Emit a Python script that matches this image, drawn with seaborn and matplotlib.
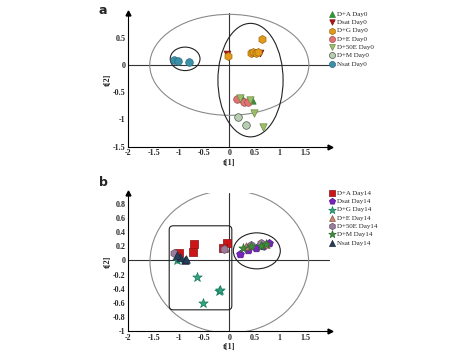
import numpy as np
import pandas as pd
import matplotlib
matplotlib.use("Agg")
import matplotlib.pyplot as plt
import seaborn as sns
from matplotlib.patches import Ellipse, FancyBboxPatch
from matplotlib.ticker import MultipleLocator

sns.set_style("white")
plt.rcParams['font.family'] = ['Liberation Serif', 'DejaVu Serif']

# ---------------- data: panel a (Day0) ----------------
groups_a = ["D+A Day0", "Dsat Day0", "D+G Day0", "D+E Day0", "D+50E Day0", "D+M Day0", "Nsat Day0"]
a_DA_x = [0.25, 0.45]
a_DA_y = [-0.60, -0.64]
a_Dsat_x = [-0.05, 0.45, 0.60]
a_Dsat_y = [0.20, 0.21, 0.21]
a_DG_x = [-0.03, 0.64, 0.42, 0.47, 0.52, 0.57]
a_DG_y = [0.17, 0.47, 0.22, 0.23, 0.22, 0.24]
a_DE_x = [0.15, 0.29, 0.37]
a_DE_y = [-0.62, -0.69, -0.68]
a_D50E_x = [0.21, 0.40, 0.48, 0.67]
a_D50E_y = [-0.60, -0.65, -0.89, -1.14]
a_DM_x = [0.17, 0.34]
a_DM_y = [-0.95, -1.10]
a_Nsat_x = [-1.09, -1.01, -0.79]
a_Nsat_y = [0.085, 0.074, 0.048]

# ---------------- data: panel b (Day14) ----------------
groups_b = ["D+A Day14", "Dsat Day14", "D+G Day14", "D+E Day14", "D+50E Day14", "D+M Day14", "Nsat Day14"]
b_DA_x = [-0.99, -0.69, -0.71, -0.05, -0.12]
b_DA_y = [0.10, 0.23, 0.12, 0.24, 0.17]
b_Dsat_x = [0.21, 0.38, 0.52, 0.67, 0.78, 0.62]
b_Dsat_y = [0.09, 0.15, 0.17, 0.20, 0.24, 0.23]
b_DG_x = [-0.63, -0.21, -0.18, -0.52, -1.03, -0.98]
b_DG_y = [-0.23, -0.44, -0.42, -0.60, 0.01, 0.02]
b_DE_x = [0.33, 0.72, -0.08]
b_DE_y = [0.21, 0.23, 0.17]
b_D50E_x = [-1.10, -0.10, 0.42, 0.62]
b_D50E_y = [0.10, 0.16, 0.22, 0.24]
b_DM_x = [0.27, 0.42, 0.62, 0.72]
b_DM_y = [0.17, 0.21, 0.21, 0.23]
b_Nsat_x = [-0.88, -0.85, -0.98, -1.03]
b_Nsat_y = [0.01, 0.02, 0.05, 0.08]

x_ticks = [-2, -1.5, -1, -0.5, 0, 0.5, 1, 1.5]
y_ticks_a = [-1.5, -1, -0.5, 0, 0.5]
y_ticks_b = [-1, -0.8, -0.6, -0.4, -0.2, 0, 0.2, 0.4, 0.6, 0.8]

xs_a = [a_DA_x, a_Dsat_x, a_DG_x, a_DE_x, a_D50E_x, a_DM_x, a_Nsat_x]
ys_a = [a_DA_y, a_Dsat_y, a_DG_y, a_DE_y, a_D50E_y, a_DM_y, a_Nsat_y]
xs_b = [b_DA_x, b_Dsat_x, b_DG_x, b_DE_x, b_D50E_x, b_DM_x, b_Nsat_x]
ys_b = [b_DA_y, b_Dsat_y, b_DG_y, b_DE_y, b_D50E_y, b_DM_y, b_Nsat_y]

colors_a = ["#2e9a35", "#b3121a", "#e39a1a", "#e07272", "#9dbd6c", "#b9cdb3", "#3b8fa6"]
markers_a = ["^", "v", "h", "o", "v", "o", "o"]
edges_a = ["#2e7a2e", "#7a1010", "#a06a10", "#a05050", "#6a8a40", "#4a5a4a", "#2a6a80"]
zord_a = [4, 3, 5, 4, 5, 4, 4]
colors_b = ["#cc1518", "#7a22c0", "#2fa382", "#cc8470", "#9a7c9c", "#3f8c3a", "#283c5c"]
markers_b = ["s", "p", "*", "^", "h", "*", "^"]
edges_b = ["#8a1010", "#50108a", "#1a7a5a", "#8a5040", "#6a506a", "#2a6a2a", "#182838"]
zord_b = [4, 4, 4, 4, 4, 5, 4]


def make_df(groups, xs, ys):
    rows = []
    for g, xx, yy in zip(groups, xs, ys):
        for x, y in zip(xx, yy):
            rows.append((g, x, y))
    return pd.DataFrame(rows, columns=["group", "t1", "t2"])


df_a = make_df(groups_a, xs_a, ys_a)
df_b = make_df(groups_b, xs_b, ys_b)

W, H = 474, 356
fig = plt.figure(figsize=(W / 100, H / 100), dpi=100)

left = 128.3 / W
width = 202 / W
ax_a = fig.add_axes([left, 1 - 146.7 / H, width, (146.7 - 13) / H])
ax_b = fig.add_axes([left, 1 - 331 / H, width, (331 - 193.3) / H])


def style_axes(ax, ylim, yticks, ymin):
    ax.set_xlim(-2, 2)
    ax.set_ylim(*ylim)
    for s in ["top", "right"]:
        ax.spines[s].set_visible(False)
    for s in ["left", "bottom"]:
        ax.spines[s].set_linewidth(0.8)
        ax.spines[s].set_color("black")
    ax.set_xticks(x_ticks)
    ax.set_xticklabels(["%g" % t for t in x_ticks], fontweight="bold")
    ax.set_yticks(yticks)
    ax.set_yticklabels(["%g" % t for t in yticks], fontweight="bold")
    ax.xaxis.set_minor_locator(MultipleLocator(0.25))
    ax.yaxis.set_minor_locator(MultipleLocator(ymin))
    ax.tick_params(axis="both", which="major", direction="in", length=2.5, width=0.6,
                   labelsize=5.8, pad=2)
    ax.tick_params(axis="both", which="minor", direction="in", length=1.5, width=0.5)
    # cross lines
    ax.axhline(0, color="#333333", lw=0.8, zorder=1)
    ax.axvline(0, color="#333333", lw=0.8, zorder=1)
    # arrows
    ax.plot([2], [ylim[0]], marker=">", color="black", ms=3.5, clip_on=False, zorder=5)
    ax.plot([-2], [ylim[1]], marker="^", color="black", ms=3.5, clip_on=False, zorder=5)


def draw_points(ax, df, groups, colors, markers, edges, sizes, zords):
    for g, c, m, e, s, z in zip(groups, colors, markers, edges, sizes, zords):
        sub = df[df["group"] == g]
        sns.scatterplot(data=sub, x="t1", y="t2", ax=ax, color=c, marker=m,
                        s=s, edgecolor=e, linewidth=0.5, label=g, zorder=z, legend=True)
    ax.set_xlabel("t[1]", fontsize=6, labelpad=1, fontweight="bold")
    ax.set_ylabel("t[2]", fontsize=6, labelpad=1, fontweight="bold")


# ---- panel a ----
style_axes(ax_a, (-1.5, 0.95), y_ticks_a, 0.25)
ax_a.add_patch(Ellipse((0, 0.0), 3.15, 1.85, fill=False, ec="#8a8a8a", lw=0.8, zorder=2))
ax_a.add_patch(Ellipse((-0.875, 0.11), 0.59, 0.43, fill=False, ec="#222222", lw=0.8, zorder=2))
ax_a.add_patch(Ellipse((0.42, -0.28), 1.29, 2.08, fill=False, ec="#222222", lw=0.8, zorder=2))
draw_points(ax_a, df_a, groups_a, colors_a, markers_a, edges_a,
            [28, 24, 34, 30, 28, 30, 30], zord_a)

# ---- panel b ----
style_axes(ax_b, (-1.0, 0.95), y_ticks_b, 0.1)
ax_b.add_patch(Ellipse((0, -0.02), 3.14, 2.02, fill=False, ec="#8a8a8a", lw=0.8, zorder=2))
ax_b.add_patch(Ellipse((0.545, 0.135), 0.93, 0.51, fill=False, ec="#222222", lw=0.8, zorder=2))
r = 0.08
asp = 51 / 70.9
x0, x1, y0, y1 = -1.19, 0.05, -0.70, 0.49
ax_b.add_patch(FancyBboxPatch((x0 + r, y0 + r * asp), (x1 - x0) - 2 * r, (y1 - y0) - 2 * r * asp,
                              boxstyle="round,pad=%g" % r, mutation_aspect=asp,
                              fill=False, ec="#222222", lw=0.8, zorder=2))
draw_points(ax_b, df_b, groups_b, colors_b, markers_b, edges_b,
            [26, 34, 50, 28, 34, 50, 30], zord_b)

for ax, top in [(ax_a, 11), (ax_b, 190)]:
    leg = ax.legend(loc="upper left", bbox_to_anchor=(329 / W, 1 - top / H),
                    bbox_transform=fig.transFigure, frameon=False, fontsize=5,
                    labelspacing=0.35, handletextpad=0.1, handlelength=1.0,
                    borderaxespad=0, borderpad=0, markerscale=0.8)

fig.text(103 / W, 1 - 10 / H, "a", fontsize=9, fontweight="bold", family="DejaVu Sans",
         va="center", ha="center")
fig.text(103 / W, 1 - 183 / H, "b", fontsize=9, fontweight="bold", family="DejaVu Sans",
         va="center", ha="center")

fig.savefig("out.png", dpi=100)
